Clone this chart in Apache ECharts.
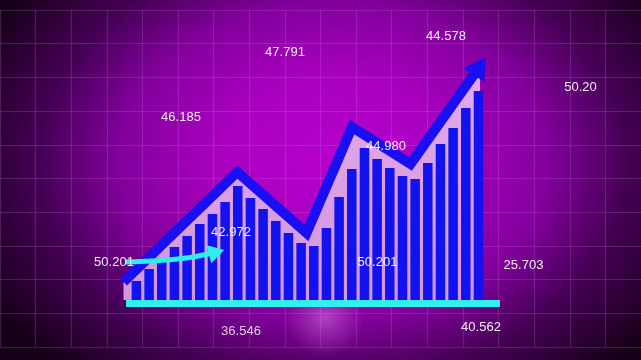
<!DOCTYPE html>
<html><head><meta charset="utf-8">
<script src="https://cdn.jsdelivr.net/npm/echarts@6/dist/echarts.min.js"></script>
<style>html,body{margin:0;padding:0;background:#200024;overflow:hidden}#c{width:641px;height:360px}</style>
</head><body><div id="c"></div>
<script>
// ---- data ----
const categories = ['1','2','3','4','5','6','7','8','9','10','11','12','13','14','15','16','17','18','19','20','21','22','23','24','25','26','27','28'];
const barValues = [19,31,42,53,64,76,86,98,114,102,91,79,67,57,54,72,103,131,152,141,132,124,121,137,156,172,192,209];
// trend arrow vertices (x in bar-index units, y in bar value units)
const trendX = [-1.02, 7.96, 13.43, 17.02, 21.64, 27.12];
const trendY = [18, 128, 67, 173, 136, 234];
// small cyan arrow
const cueX = [-0.82, 1.86, 4.23, 6.32];
const cueY = [38, 39.5, 42.5, 48];
// cyan baseline
const baseX = [-0.82, 28.7];
const baseY = [-3.5, -3.5];
// floating number labels
const floatLabels = ['47.791','44.578','46.185','50.20','44.980','42.972','50.201','50.201','25.703','36.546','40.562'];

// ---- layout ----
const labelPos = [[285,52],[446,36.5],[181,117.5],[580.5,87],[386,146.5],[231,232.5],[114,262],[377.5,262.5],[523.5,265.5],[241,331.5],[481,327]];
const W = 641, H = 360;
const barLeft = 130.1, barWidthPx = 354.7;
const band = barWidthPx / categories.length;
// full-canvas value axis matching the bar bands (bar i centred at value i)
const lineXMin = -0.5 - barLeft / band;
const lineXMax = categories.length - 0.5 + (W - barLeft - barWidthPx) / band;

const chart = echarts.init(document.getElementById('c'), null, {renderer:'canvas'});

const pairs = (xs, ys) => xs.map((x, i) => [x, ys[i]]);
const trendData = pairs(trendX, trendY).map((p, i, a) => i === a.length - 1
  ? {value: p, symbol: 'triangle', symbolSize: [25, 22], symbolRotate: -34}
  : {value: p, symbol: 'none'});
const cueData = pairs(cueX, cueY).map((p, i, a) => i === a.length - 1
  ? {value: p, symbol: 'triangle', symbolSize: [19, 16], symbolRotate: -75}
  : {value: p, symbol: 'none'});

const font = '13px "Liberation Sans", Arial, sans-serif';
const textEls = floatLabels.map((t, i) => ({
  type:'text', x: labelPos[i][0], y: labelPos[i][1], z: 100,
  style:{text:t, fill: t === '36.546' ? 'rgba(246,236,248,0.85)' : '#f6eef8', font: font,
    textAlign:'center', textVerticalAlign:'middle', align:'center', verticalAlign:'middle'}
}));

const sx = 1.35;
const gridLine = {show:true, lineStyle:{color:'rgba(225,140,245,0.2)', width:1.2}};
const option = {
  backgroundColor: '#200024',
  animation: false,
  graphic: [
    {type:'rect', x:0, y:0, scaleX:sx, scaleY:1, z:-100, silent:true,
      shape:{x:0, y:0, width:W / sx, height:H},
      style:{fill:{type:'radial', x:0.52, y:0.45, r:0.8, colorStops:[
        {offset:0, color:'#b600cc'},
        {offset:0.3, color:'#a800be'},
        {offset:0.55, color:'#82009c'},
        {offset:0.75, color:'#460056'},
        {offset:1, color:'#160018'}]}}},
    {type:'ellipse', z:-99, silent:true,
      shape:{cx:325, cy:318, rx:175, ry:40},
      style:{fill:{type:'radial', x:0.5, y:0.5, r:0.5, colorStops:[
        {offset:0, color:'rgba(232,155,238,0.42)'},
        {offset:0.5, color:'rgba(225,135,235,0.22)'},
        {offset:1, color:'rgba(220,120,230,0)'}]}}},
    ...textEls
  ],
  grid: [
    {left:barLeft, width:barWidthPx, top:0, height:H, show:false},
    {left:0, width:W, top:10, height:337, show:false},
    {left:0, width:W, top:0, height:H, show:false}
  ],
  xAxis: [
    {type:'category', gridIndex:0, data:categories, show:false, boundaryGap:true},
    {type:'value', gridIndex:1, min:0, max:18, interval:1, axisLine:{show:false}, axisTick:{show:false}, axisLabel:{show:false}, splitLine:gridLine},
    {type:'value', gridIndex:2, min:lineXMin, max:lineXMax, show:false}
  ],
  yAxis: [
    {type:'value', gridIndex:0, min:-60, max:300, show:false},
    {type:'value', gridIndex:1, min:0, max:10, interval:1, axisLine:{show:false}, axisTick:{show:false}, axisLabel:{show:false}, splitLine:gridLine},
    {type:'value', gridIndex:2, min:-60, max:300, show:false}
  ],
  series: [
    {type:'line', xAxisIndex:2, yAxisIndex:2, data: pairs(trendX, trendY), symbol:'none', silent:true, z:2,
      lineStyle:{width:0, opacity:0},
      areaStyle:{color:{type:'linear', x:0, y:0, x2:0, y2:1, colorStops:[{offset:0,color:'#e4aaea'},{offset:1,color:'#d296de'}]}, opacity:1}},
    {type:'bar', xAxisIndex:0, yAxisIndex:0, data: barValues, barCategoryGap:'25%', silent:true, z:3,
      itemStyle:{color:'#1212ee'}},
    {type:'line', xAxisIndex:2, yAxisIndex:2, data: trendData, silent:true, z:4, showSymbol:true,
      lineStyle:{width:10, color:'#1a0ef2', join:'miter', cap:'butt'}, itemStyle:{color:'#1a0ef2'}},
    {type:'line', xAxisIndex:2, yAxisIndex:2, data: pairs(baseX, baseY), symbol:'none', silent:true, z:5,
      lineStyle:{width:7, color:'#30f0f0', cap:'butt'}},
    {type:'line', xAxisIndex:2, yAxisIndex:2, data: cueData, smooth:0.4, silent:true, z:6, showSymbol:true,
      lineStyle:{width:5, color:'#30eef0', cap:'butt'}, itemStyle:{color:'#30eef0'}}
  ]
};
chart.setOption(option);
</script>
</body></html>
